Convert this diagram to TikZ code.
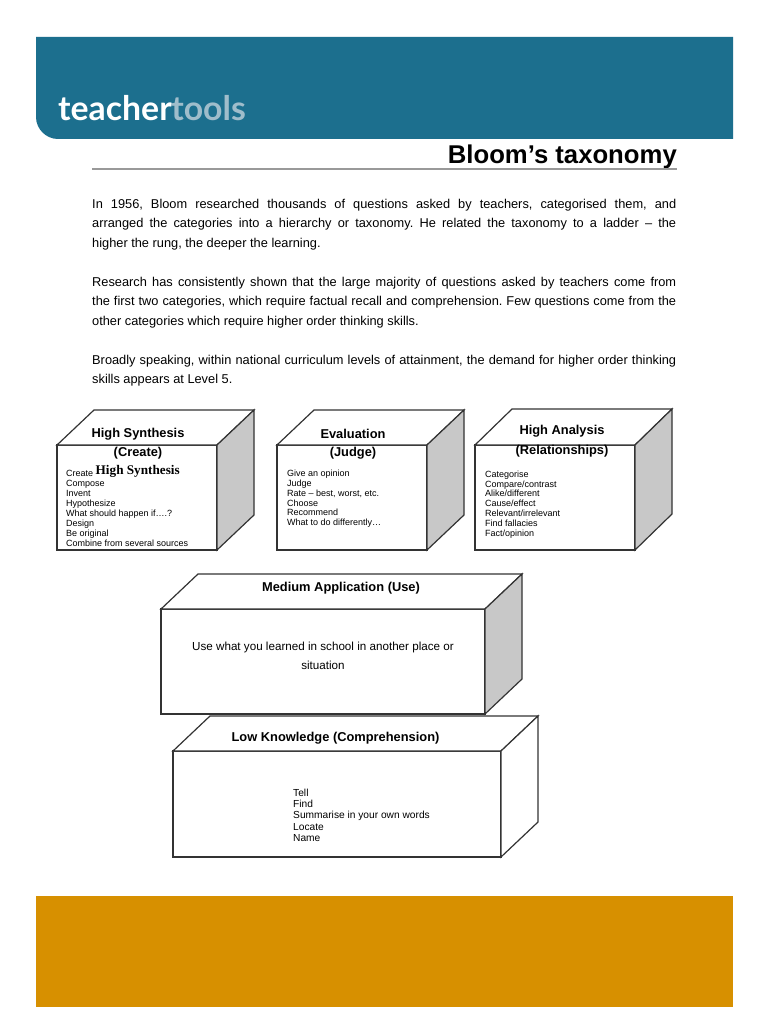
\documentclass[tikz,border=0pt]{standalone}
\usepackage{fontspec}
\setmainfont{Liberation Sans}
\newfontfamily\logofont{Lato}
\newfontfamily\timesfont{Liberation Serif}
\definecolor{teal}{HTML}{1C6F8E}
\definecolor{ochre}{HTML}{D79000}
\definecolor{logolight}{HTML}{9FBDCB}
\definecolor{sideg}{HTML}{C8C8C8}
\definecolor{edge}{HTML}{333333}
\newcommand{\cubebox}[7]{% x y w h dx dy sidefill
  \path[cubeface] (#1,#2) rectangle ++(#3,#4);
  \path[cubeface] (#1,#2) -- ++(#5,-#6) -- ++(#3,0) -- ++(-#5,#6) -- cycle;
  \path[cubeface,fill=#7] (#1+#3,#2) -- ++(#5,-#6) -- ++(0,#4) -- ++(-#5,#6) -- cycle;
}
\newcommand{\jl}[1]{\hbox to 584pt{#1}}
\tikzset{
  cubeface/.style={draw=edge,line width=1.2pt,fill=white,line join=miter},
  bodytext/.style={anchor=north west,inner sep=0,align=left,font=\frenchspacing\fontsize{12.8}{19.5}\selectfont},
  head/.style={anchor=center,inner sep=0,align=center,font=\fontsize{12.85}{19}\selectfont\bfseries},
  small/.style={anchor=north west,inner sep=0,align=left,font=\fontsize{9}{9.8}\selectfont},
}
\begin{document}
\begin{tikzpicture}[x=1pt,y=-1pt]
\useasboundingbox (0,0) rectangle (768,1024);
\fill[white] (0,0) rectangle (768,1024);
\fill[teal] (36,37) -- (733,37) -- (733,139) -- (58,139) .. controls (46,139) and (36,129) .. (36,117) -- cycle;
\node[anchor=base west,inner sep=0,font=\logofont\bfseries\fontsize{33.8}{34}\selectfont] (logo) at (58,120.5) {\textcolor{white}{teacher}\kern-0.5pt\textcolor{logolight}{tools}};
\fill[ochre] (36,896) rectangle (733,1007);
\node[anchor=base east,inner sep=0,font=\fontsize{25.7}{26}\selectfont\bfseries] (title) at (677,164) {Bloom’s taxonomy};
\draw[color=gray!80,line width=1.3pt] (92,169) -- (677,169);

\node[bodytext] (p1) at (92,199) {\jl{In 1956, Bloom researched thousands of questions asked by teachers, categorised them, and}\\
\jl{arranged the categories into a hierarchy or taxonomy. He related the taxonomy to a ladder – the}\\
higher the rung, the deeper the learning.};
\node[bodytext] (p2) at (92,277) {\jl{Research has consistently shown that the large majority of questions asked by teachers come from}\\
\jl{the first two categories, which require factual recall and comprehension. Few questions come from the}\\
other categories which require higher order thinking skills.};
\node[bodytext] (p3) at (92,355) {\jl{Broadly speaking, within national curriculum levels of attainment, the demand for higher order thinking}\\
skills appears at Level 5.};

\cubebox{57}{445}{160}{105}{37}{35}{sideg}
\cubebox{277}{445}{150}{105}{37}{35}{sideg}
\cubebox{475}{445}{160}{105}{37}{36}{sideg}
\cubebox{161}{609}{324}{105}{37}{35}{sideg}
\cubebox{173}{751}{328}{106}{37}{35}{white}

\node[head] (h1a) at (138,434) {High Synthesis};
\node[head] (h1b) at (138,453) {(Create)};
\node[small,font=\fontsize{9}{10}\selectfont] (t1) at (66,470.5) {Create \smash{\raisebox{2.8pt}{\timesfont\bfseries\fontsize{13.2}{13}\selectfont High Synthesis}}\\Compose\\Invent\\Hypothesize\\What should happen if….?\\Design\\Be original\\Combine from several sources};

\node[head] (h2a) at (353,434) {Evaluation};
\node[head] (h2b) at (353,453) {(Judge)};
\node[small] (t2) at (287,470) {Give an opinion\\Judge\\Rate – best, worst, etc.\\Choose\\Recommend\\What to do differently…};

\node[head] (h3a) at (562,431) {High Analysis};
\node[head] (h3b) at (562,451) {(Relationships)};
\node[small] (t3) at (485,470.5) {Categorise\\Compare/contrast\\Alike/different\\Cause/effect\\Relevant/irrelevant\\Find fallacies\\Fact/opinion};

\node[head] (h4) at (341,588) {Medium Application (Use)};
\node[anchor=center,inner sep=0,align=center,font=\fontsize{11.65}{19}\selectfont] (t4) at (323,655.5) {Use what you learned in school in another place or\\situation};

\node[head] (h5) at (335.5,738) {Low Knowledge (Comprehension)};
\node[small,font=\fontsize{10.2}{11.4}\selectfont] (t5) at (293,788.5) {Tell\\Find\\Summarise in your own words\\Locate\\Name};
\end{tikzpicture}
\end{document}
